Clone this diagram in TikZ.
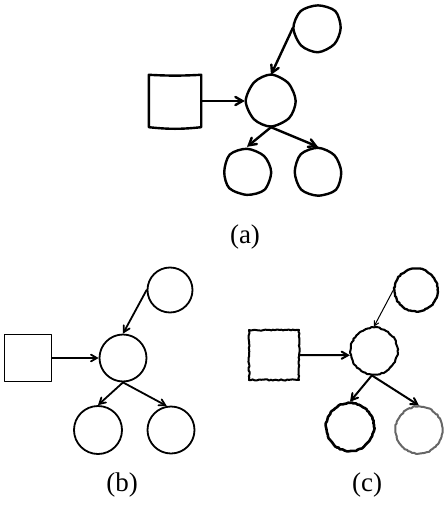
\documentclass[tikz,border=0pt]{standalone}
\usepackage{fontspec}
\setmainfont{Liberation Serif}
\usetikzlibrary{arrows, decorations.pathmorphing}

\newcommand\handring[2]{\draw[shift={(#1.center)}] plot[smooth cycle, samples=8, domain=0:315] (\x:{#2+3*rnd-1.5});}

\begin{document}
\begin{tikzpicture}[x=1pt,y=-1pt,>=angle 60,line cap=round,line join=round,
  jitter/.style={decorate,decoration={random steps,segment length=2pt,amplitude=0.6pt}},
  state/.style={circle,draw,inner sep=0pt,minimum size=#1},
  box/.style={rectangle,draw,inner sep=0pt,minimum size=#1},
  caption/.style={font=\fontsize{27}{30}\selectfont}]
  \pgfmathsetseed{5}
  \useasboundingbox (0,0) rectangle (446,508);
  % (a)
  \begin{scope}[line width=2.4pt]
  \node[state=48pt, draw=none] (a1) at (318,28) {};
  \node[box=50pt, draw=none] (a2) at (175,101) {};
  \node[state=50pt, draw=none] (a3) at (271,101) {};
  \node[state=48pt, draw=none] (a4) at (247,172) {};
  \node[state=48pt, draw=none] (a5) at (318,172) {};
  \handring{a1}{24} \handring{a3}{25} \handring{a4}{24} \handring{a5}{24}
  \draw (a2.north west) to[bend right=3] (a2.north east) -- (a2.south east)
    to[bend left=6] (a2.south west) -- cycle;
  \path[->]
    (a1.west) edge (a3.north)
    (a2.east) edge (a3.west)
    (a3.south) edge (a4.north)
    (a3.south) edge (a5.north);
  \end{scope}
  \node[caption] (a) at (245,237) {(a)};
  % (b)
  \begin{scope}[line width=1.8pt]
  \node[state=45pt] (b1) at (170,290) {};
  \node[box=47pt] (b2) at (28,358) {};
  \node[state=47pt] (b3) at (123,358) {};
  \node[state=48pt] (b4) at (98,430) {};
  \node[state=47pt] (b5) at (171,430) {};
  \path[->]
    (b1.west) edge (b3.north)
    (b2.east) edge (b3.west)
    (b3.south) edge (b4.north)
    (b3.south) edge (b5.100);
  \end{scope}
  \node[caption] (b) at (122,485) {(b)};
  % (c)
  \begin{scope}[line width=2pt]
  \node[state=43pt, jitter, line width=2.3pt] (c1) at (416,290) {};
  \node[box=50pt, jitter] (c2) at (274,355) {};
  \node[state=47pt, jitter] (c3) at (374,351) {};
  \node[state=48pt, jitter, line width=2.6pt] (c4) at (350,427) {};
  \node[state=47pt, jitter, draw=black!60] (c5) at (419,430) {};
  \path[->]
    (c1.west) edge[line width=1pt] (c3.north)
    (c2.east) edge (c3.190)
    (c3.265) edge (c4.north)
    (c3.265) edge (c5.north);
  \end{scope}
  \node[caption] (c) at (367,485) {(c)};
\end{tikzpicture}
\end{document}
